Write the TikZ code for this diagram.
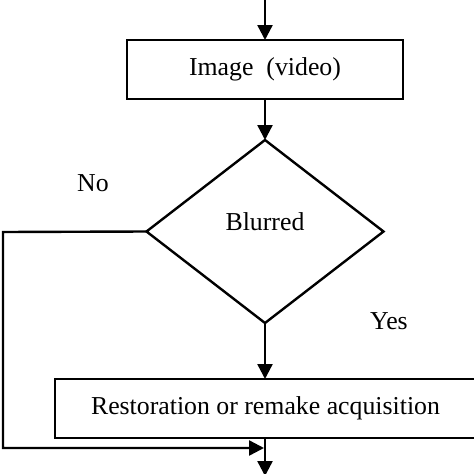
\documentclass[tikz,border=0pt]{standalone}
\usepackage{fontspec}
\setmainfont{Liberation Serif}
\usetikzlibrary{arrows.meta,shapes.geometric}
\begin{document}
\begin{tikzpicture}[x=1pt,y=-1pt,
  every node/.style={font=\fontsize{25.8}{30}\selectfont, inner sep=0pt, outer sep=0pt},
  procbox/.style={draw, line width=2.4pt, rectangle},
  decbox/.style={draw, line width=2.4pt, diamond},
  conn/.style={line width=2.4pt, -{Triangle[length=15pt,width=15pt]}}]
\useasboundingbox (0,0) rectangle (474,474);
\coordinate (start) at (265,-5);
\node[procbox, minimum width=276pt, minimum height=59pt] (img) at (265,69.5) {Image\ \ (video)};
\node[decbox, minimum width=237pt, minimum height=183pt] (dec) at (265,231.5) {};
\node (blur) at (265,222) {Blurred};
\node (no) at (93,183) {No};
\node (yes) at (389,321) {Yes};
\node[procbox, minimum width=421pt, minimum height=59pt] (rest) at (265.5,408.5) {Restoration or remake acquisition};
\coordinate (l1) at (3,232);
\coordinate (l2) at (3,448);
\coordinate (l3) at (264,448);
\coordinate (endpt) at (265,476);
\draw[conn] (start) -- (img.north);
\draw[conn] (img.south) -- (dec.north);
\draw[conn] (dec.south) -- (dec.south |- rest.north);
\draw[conn] (dec.west) -- (l1) -- (l2) -- (l3);
\draw[conn] (dec.south |- rest.south) -- (endpt);
\end{tikzpicture}
\end{document}
